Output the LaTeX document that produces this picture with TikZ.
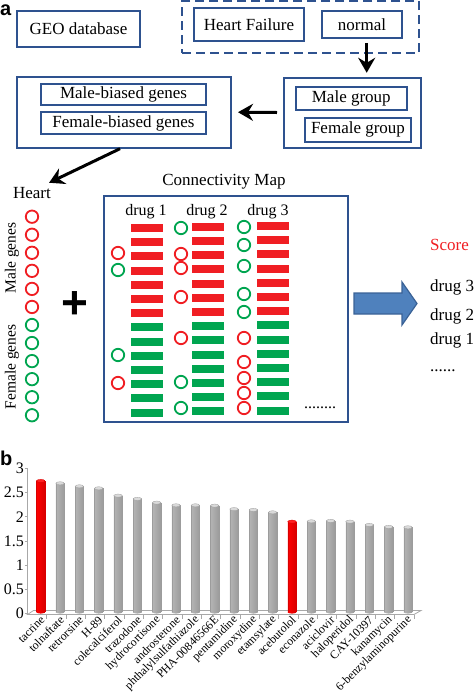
\documentclass[tikz,border=0pt]{standalone}
\usepackage{fontspec}
\setmainfont{Liberation Serif}
\newfontfamily\panelfont{Liberation Sans}
\usetikzlibrary{arrows.meta}
\definecolor{boxblue}{HTML}{2E528F}
\definecolor{cred}{HTML}{F01E23}
\definecolor{cgreen}{HTML}{00A550}
\definecolor{arrowfill}{HTML}{4F81BD}
\definecolor{arrowline}{HTML}{3A6296}
\definecolor{gedge}{HTML}{B4B4B4}
\definecolor{gmid}{HTML}{F4F4F4}
\definecolor{gdark}{HTML}{9C9C9C}
\definecolor{gtop}{HTML}{DADADA}
\definecolor{redge}{HTML}{FF0000}
\definecolor{rmid}{HTML}{FF4A4A}
\definecolor{rdark}{HTML}{D80000}
\definecolor{rtop}{HTML}{FF2020}
\definecolor{axisgray}{HTML}{A8A8A8}
\newcommand\cylbar[6]{%
  \shade[left color=#3,middle color=#4,right color=#5] ({#1-4.2},{#2+1.6}) rectangle ({#1+4.2},612);
  \shade[left color=#3,middle color=#4,right color=#5] (#1,612) ellipse[x radius=4.2pt,y radius=1.6pt];
  \draw[#5,line width=0.3pt] ({#1-4.2},612) -- ({#1-4.2},{#2+1.6}) ({#1+4.2},{#2+1.6}) -- ({#1+4.2},612);
  \draw[draw=#5,fill=#6,line width=0.3pt] (#1,{#2+1.6}) ellipse[x radius=4.2pt,y radius=1.6pt];
}
\begin{document}
\begin{tikzpicture}[x=1pt,y=-1pt,
  bluebox/.style={draw=boxblue,line width=2pt,inner sep=0pt,font=\fontsize{17}{20}\selectfont},
  dashbox/.style={draw=boxblue,line width=2.2pt,dash pattern=on 9pt off 5pt,inner sep=0pt},
  arr/.style={line width=3pt,-{Stealth[length=15pt,width=17pt,inset=5pt]}},
  txt/.style={inner sep=0pt,font=\fontsize{17}{20}\selectfont},
  rcirc/.style={draw=cred,line width=1.8pt},
  gcirc/.style={draw=cgreen,line width=1.8pt},
  xlab/.style={inner sep=0pt,font=\fontsize{11.8}{13}\selectfont,rotate=45,anchor=east},
  ylab/.style={inner sep=0pt,font=\fontsize{16}{18}\selectfont,anchor=east},
  panel/.style={inner sep=0pt,font=\panelfont\bfseries\fontsize{20}{22}\selectfont,anchor=base west}
]
\useasboundingbox (0,0) rectangle (474,694);
\clip (0,0) rectangle (474,694);

% ---------- panel a ----------
\node[panel] (pa) at (0,15) {a};
\node[bluebox,minimum width=123pt,minimum height=36pt] (geo) at (78.5,29) {GEO database};
\node[dashbox,minimum width=237pt,minimum height=52pt] (cond) at (300.5,27) {};
\node[bluebox,minimum width=110pt,minimum height=33pt] (hf) at (249,24.5) {Heart Failure};
\node[bluebox,minimum width=80pt,minimum height=27pt] (normal) at (362,24.7) {normal};
\node[bluebox,minimum width=137pt,minimum height=70pt] (grp) at (352.5,112.5) {};
\node[bluebox,minimum width=111pt,minimum height=23pt] (male) at (351.3,98) {Male group};
\node[bluebox,minimum width=106pt,minimum height=24pt] (female) at (358,129.7) {Female group};
\node[bluebox,minimum width=214pt,minimum height=71pt] (genes) at (123.7,112.2) {};
\node[bluebox,minimum width=165pt,minimum height=21.5pt] (mb) at (123.5,94.7) {Male-biased genes};
\node[bluebox,minimum width=165pt,minimum height=22pt] (fb) at (123.5,123.3) {Female-biased genes};

\node[txt] (heart) at (32,193) {Heart};

\draw[arr] ([xshift=4.7pt,yshift=-3.7pt]normal.south) -- ([xshift=4.7pt,yshift=3.7pt]normal.south |- grp.north);
\draw[arr] ([xshift=-6pt]grp.west) -- ([xshift=6.3pt]genes.east);
\draw[arr] ([xshift=-3.7pt]genes.south) -- ([xshift=-2pt,yshift=4.4pt]heart.north east);

\node[txt,rotate=90,font=\fontsize{15.5}{18}\selectfont] (mg) at (12,258) {Male genes};
\node[txt,rotate=90,font=\fontsize{15.5}{18}\selectfont] (fg) at (12,367) {Female genes};
\foreach \k in {0,...,5} \draw[rcirc] (32,{216.7+18.05*\k}) circle[radius=6.2pt];
\foreach \k in {6,...,11} \draw[gcirc] (32,{216.7+18.05*\k}) circle[radius=6.2pt];

\node[inner sep=0pt,font=\panelfont\bfseries\fontsize{46}{46}\selectfont] (plus) at (75,305) {+};

\node[draw=boxblue,line width=1.8pt,minimum width=244pt,minimum height=226pt,inner sep=0pt] (cmap) at (226,309) {};
\node[txt] (cmaptitle) at (224,182) {Connectivity Map};
\node[txt,font=\fontsize{16}{18}\selectfont] (d1) at (146,212) {drug 1};
\node[txt,font=\fontsize{16}{18}\selectfont] (d2) at (207,212) {drug 2};
\node[txt,font=\fontsize{16}{18}\selectfont] (d3) at (268,212) {drug 3};

\foreach \xa/\yb in {131/228, 192/226.8, 257/226}{
  \foreach \i in {0,...,6} \fill[cred] (\xa,{\yb+14.2*\i-4}) rectangle ++(32,8);
  \foreach \i in {7,...,13} \fill[cgreen] (\xa,{\yb+14.2*\i-4}) rectangle ++(32,8);
}
% drug 1 circles
\foreach \y in {253,383} \draw[rcirc] (118,\y) circle[radius=6.2pt];
\foreach \y in {270,355} \draw[gcirc] (118,\y) circle[radius=6.2pt];
% drug 2 circles
\foreach \y in {254,268,297,338} \draw[rcirc] (181,\y) circle[radius=6.2pt];
\foreach \y in {228,382,408} \draw[gcirc] (181,\y) circle[radius=6.2pt];
% drug 3 circles
\foreach \y in {338,362,378,393,408} \draw[rcirc] (244,\y) circle[radius=6.2pt];
\foreach \y in {227,245,266,294,312} \draw[gcirc] (244,\y) circle[radius=6.2pt];

\node[txt,font=\fontsize{16}{18}\selectfont,anchor=base] (dots) at (320,408) {........};

\draw[fill=arrowfill,draw=arrowline,line width=1.2pt] (354,293) -- (402,293) -- (402,282) -- (417,303.5) -- (402,325) -- (402,314) -- (354,314) -- cycle;

\node[txt,text=cred,anchor=west] (score) at (430,245) {Score};
\node[txt,anchor=west] (r3) at (430,287) {drug 3};
\node[txt,anchor=west] (r2) at (430,316) {drug 2};
\node[txt,anchor=west] (r1) at (430,340) {drug 1};
\node[txt,anchor=base west] (rdots) at (430,371.5) {......};

% ---------- panel b ----------
\node[panel] (pb) at (0,465) {b};
\draw[axisgray,line width=0.7pt] (27.5,468.3) -- (27.5,614.5);
\foreach \v/\t in {0/0,0.5/0.5,1/1,1.5/1.5,2/2,2.5/2.5,3/3}{
  \draw[axisgray,line width=0.7pt] (24.5,{613.5-48.4*\v}) -- (27.5,{613.5-48.4*\v});
  \node[ylab] at (24,{613.5-48.4*\v}) {\t};
}
\draw[axisgray,line width=0.8pt] (27.5,614.5) -- (414,614.5) -- (421,610.5) -- (33.5,610.5) -- cycle;
\foreach \k in {1,...,20} \draw[axisgray,line width=0.8pt] ({27.5+19.33*\k},614.5) -- ++(0,4);

\foreach \i/\tp in {1/481.7,2/484.7,3/486.7,4/494,5/497.3,6/501,7/503.7,8/503.7,9/504,10/507.5,11/508.3,12/510.7,14/519.7,15/519.3,16/520,17/523.3,18/525.3,19/525.7}
  {\cylbar{40.7+19.33*\i}{\tp}{gedge}{gmid}{gdark}{gtop}}
\foreach \i/\tp in {0/479.3,13/520}
  {\cylbar{40.7+19.33*\i}{\tp}{redge}{rmid}{rdark}{rtop}}

\foreach \nm [count=\j from 0] in {tacrine,tolnaftate,retrorsine,H-89,colecalciferol,trazodone,hydrocortisone,androsterone,phthalylsulfathiazole,PHA-00846566E,pentamidine,moroxydine,etamsylate,acebutolol,econazole,aciclovir,haloperidol,CAY-10397,kanamycin,6-benzylaminopurine}
  \node[xlab] (lab\j) at ({40.7+19.33*\j+2},618) {\nm};
\end{tikzpicture}
\end{document}
